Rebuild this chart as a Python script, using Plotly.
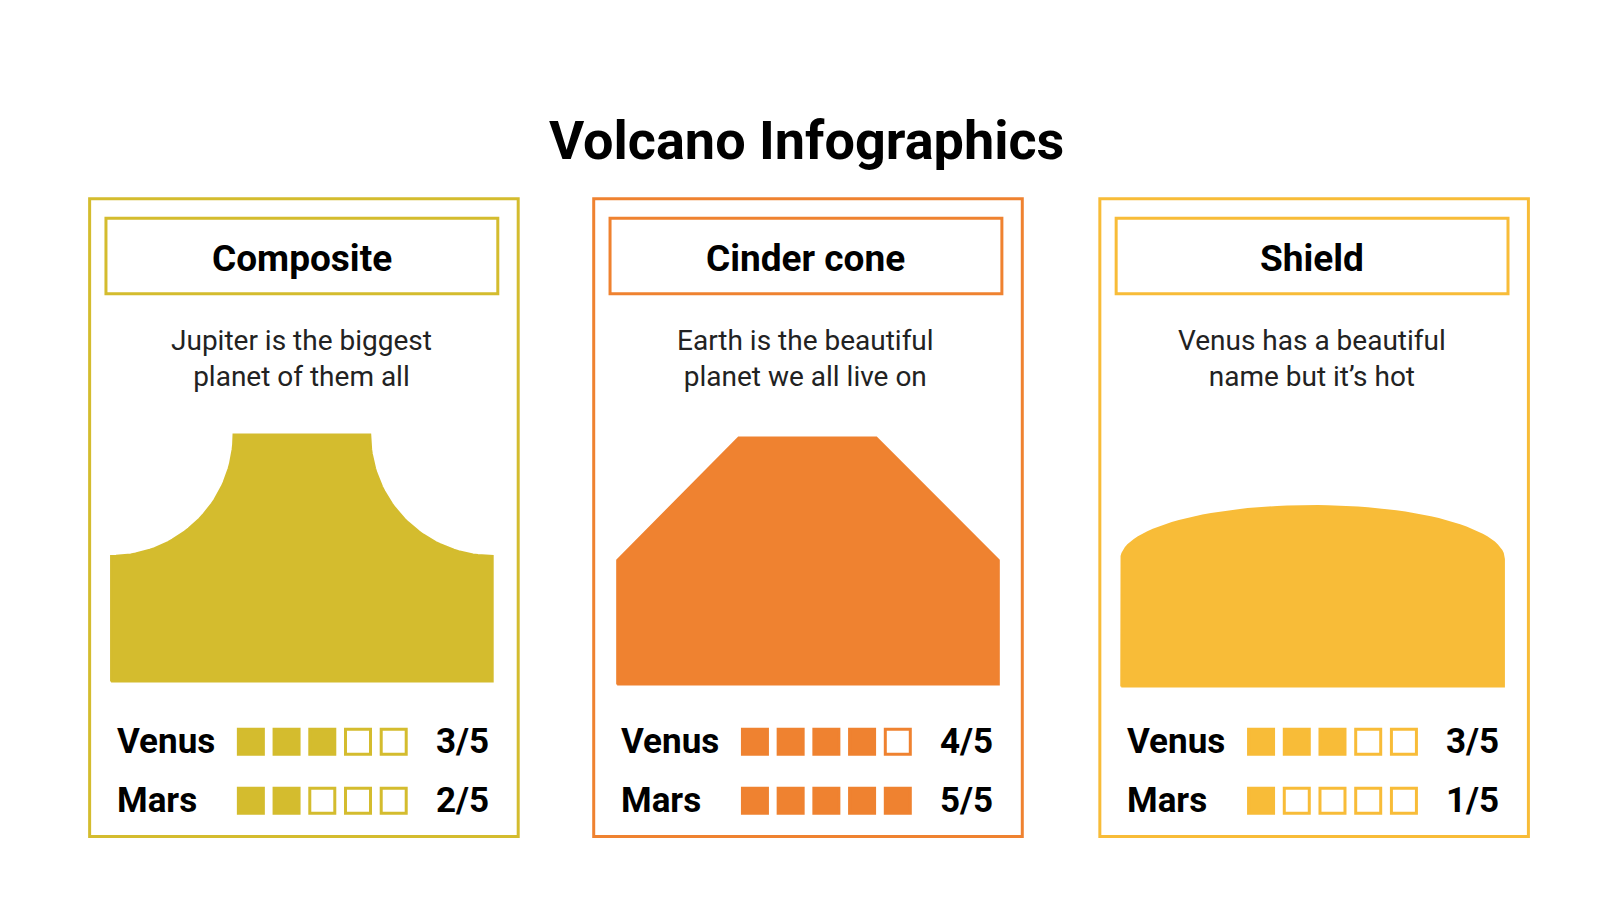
import numpy as np
import plotly.graph_objects as go

title = "Volcano Infographics"
types = ["Composite", "Cinder cone", "Shield"]
descriptions = ["Jupiter is the biggest<br>planet of them all",
                "Earth is the beautiful<br>planet we all live on",
                "Venus has a beautiful<br>name but it’s hot"]
venus_scores = [3, 4, 3]
mars_scores = [2, 5, 1]
max_score = 5
colors = ["#D4BC2E", "#EF8230", "#F8BC38"]

offsets = [0, 494, 990]
COND = "Liberation Sans Narrow, Roboto, sans-serif"

fig = go.Figure()
shapes = []
ann = []

ann.append(dict(x=783, y=130, text=f"<b>{title}</b>", showarrow=False,
                font=dict(family=COND, size=54, color="#000")))

for i, off in enumerate(offsets):
    c = colors[i]
    shapes.append(dict(type="rect", x0=80+off, x1=500+off, y0=187, y1=812,
                       line=dict(color=c, width=3), fillcolor="rgba(0,0,0,0)"))
    shapes.append(dict(type="rect", x0=96+off, x1=480+off, y0=206, y1=280,
                       line=dict(color=c, width=3), fillcolor="rgba(0,0,0,0)"))
    ann.append(dict(x=288+off, y=245, text=f"<b>{types[i]}</b>", showarrow=False,
                    font=dict(family=COND, size=37, color="#000")))
    ann.append(dict(x=288+off, y=343, text=descriptions[i], showarrow=False,
                    font=dict(family="Roboto", size=28, color="#222")))

    # volcano silhouettes (coordinates relative to the first panel)
    if i == 0:
        t = np.linspace(0, np.pi/2, 40)
        lx = 101 + 120*np.sin(t); ly = 418 + 119*np.cos(t)
        rx = 475 - 120*np.sin(t[::-1]); ry = 418 + 119*np.cos(t[::-1])
        xs = np.concatenate([[101], lx, rx, [475, 475, 101]])
        ys = np.concatenate([[660], ly, ry, [537, 660, 660]])
    elif i == 1:
        xs = np.array([103, 103, 222, 357, 477, 477, 103])
        ys = np.array([663, 541, 421, 421, 541, 663, 663])
    else:
        t = np.linspace(np.pi, 0, 60)
        ex = 288.5 + 187.5*np.cos(t); ey = 540 - 52*np.sin(t)
        xs = np.concatenate([[101], ex, [476, 101]])
        ys = np.concatenate([[665], ey, [665, 665]])
    fig.add_trace(go.Scatter(x=xs+off, y=ys, fill="toself", fillcolor=c, mode="lines",
                             line=dict(color=c, width=2), hoverinfo="skip"))

    for name, score, yy in (("Venus", venus_scores[i], 719), ("Mars", mars_scores[i], 777)):
        ann.append(dict(x=105+off, y=yy, text=f"<b>{name}</b>", showarrow=False, xanchor="left",
                        font=dict(family=COND, size=35, color="#000")))
        ann.append(dict(x=445+off, y=yy, text=f"<b>{score}/{max_score}</b>", showarrow=False,
                        font=dict(family=COND, size=35, color="#000")))
        sx = [238 + 35*k + off for k in range(max_score)]
        fills = [c if k < score else "white" for k in range(max_score)]
        fig.add_trace(go.Scatter(x=sx, y=[yy]*max_score, mode="markers",
                                 marker=dict(symbol="square", size=25, color=fills,
                                             line=dict(color=c, width=3)),
                                 hoverinfo="skip"))

fig.update_layout(width=1600, height=900, margin=dict(l=0, r=0, t=0, b=0),
                  paper_bgcolor="white", plot_bgcolor="white", showlegend=False,
                  shapes=shapes, annotations=ann,
                  xaxis=dict(range=[0, 1568], visible=False, fixedrange=True),
                  yaxis=dict(range=[882, 0], visible=False, fixedrange=True))
fig.write_html("out.html")
